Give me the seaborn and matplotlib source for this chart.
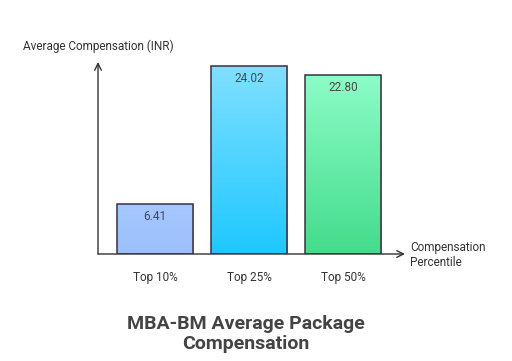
import numpy as np
import pandas as pd
import seaborn as sns
import matplotlib.pyplot as plt
from matplotlib.colors import LinearSegmentedColormap

# Data
categories = ['Top 10%', 'Top 25%', 'Top 50%']
values = [6.41, 24.02, 22.80]
top_colors = ['#a6c8ff', '#80e0ff', '#8cfcc6']
bottom_colors = ['#9cbffb', '#1ec8ff', '#43dc8c']

df = pd.DataFrame({'percentile': categories, 'value': values})

sns.set_theme(style='white')
plt.rcParams['font.family'] = ['Roboto', 'DejaVu Sans']

fig = plt.figure(figsize=(5.12, 3.61), dpi=100)
ax = fig.add_axes([98 / 512, 1 - 254 / 361, 307 / 512, 192 / 361])

sns.barplot(data=df, x='percentile', y='value', ax=ax, width=0.81,
            color='white', edgecolor='#3d2f3d', linewidth=1.1, zorder=3)

# gradient fill clipped to each bar
for patch, v, c_top, c_bot in zip(ax.patches, values, top_colors, bottom_colors):
    x0, y0 = patch.get_x(), patch.get_y()
    w, h = patch.get_width(), patch.get_height()
    cmap = LinearSegmentedColormap.from_list('g', [c_bot, c_top])
    grad = np.linspace(0, 1, 100).reshape(-1, 1)
    im = ax.imshow(grad, extent=[x0, x0 + w, y0, y0 + h], origin='lower',
                   cmap=cmap, aspect='auto', zorder=2)
    im.set_clip_path(patch)
    patch.set_facecolor('none')
    ax.text(x0 + w / 2, v - 1.6, f'{v:.2f}', ha='center', va='center',
            fontsize=8.5, color='#4a4a4a', zorder=4)

ax.set_xlim(-0.606, 2.66)
ax.set_ylim(0, 24.5)

for s in ax.spines.values():
    s.set_visible(False)
ax.set_yticks([])
ax.tick_params(axis='x', length=0, pad=12, labelsize=8.5, labelcolor='#333333')
ax.set_xlabel('')
ax.set_ylabel('')

# axis arrows
arrow = dict(arrowstyle='->', color='#333333', lw=1.0, mutation_scale=12,
             shrinkA=0, shrinkB=0)
ax.annotate('', xy=(0, 1.0), xytext=(0, 0), xycoords='axes fraction',
            arrowprops=arrow, annotation_clip=False)
ax.annotate('', xy=(1.0, 0), xytext=(0, 0), xycoords='axes fraction',
            arrowprops=arrow, annotation_clip=False)

fig.text(23 / 512, 1 - 46 / 361, 'Average Compensation (INR)', ha='left',
         va='center', fontsize=8.5, color='#333333')
fig.text(410 / 512, 1 - 255 / 361, 'Compensation\nPercentile', ha='left',
         va='center', fontsize=8.5, color='#333333', linespacing=1.15)

fig.text(246 / 512, 1 - 334 / 361, 'MBA-BM Average Package\nCompensation',
         ha='center', va='center', fontsize=14, fontweight='bold',
         color='#444444', linespacing=1.2)

fig.savefig('out.png', dpi=100)
